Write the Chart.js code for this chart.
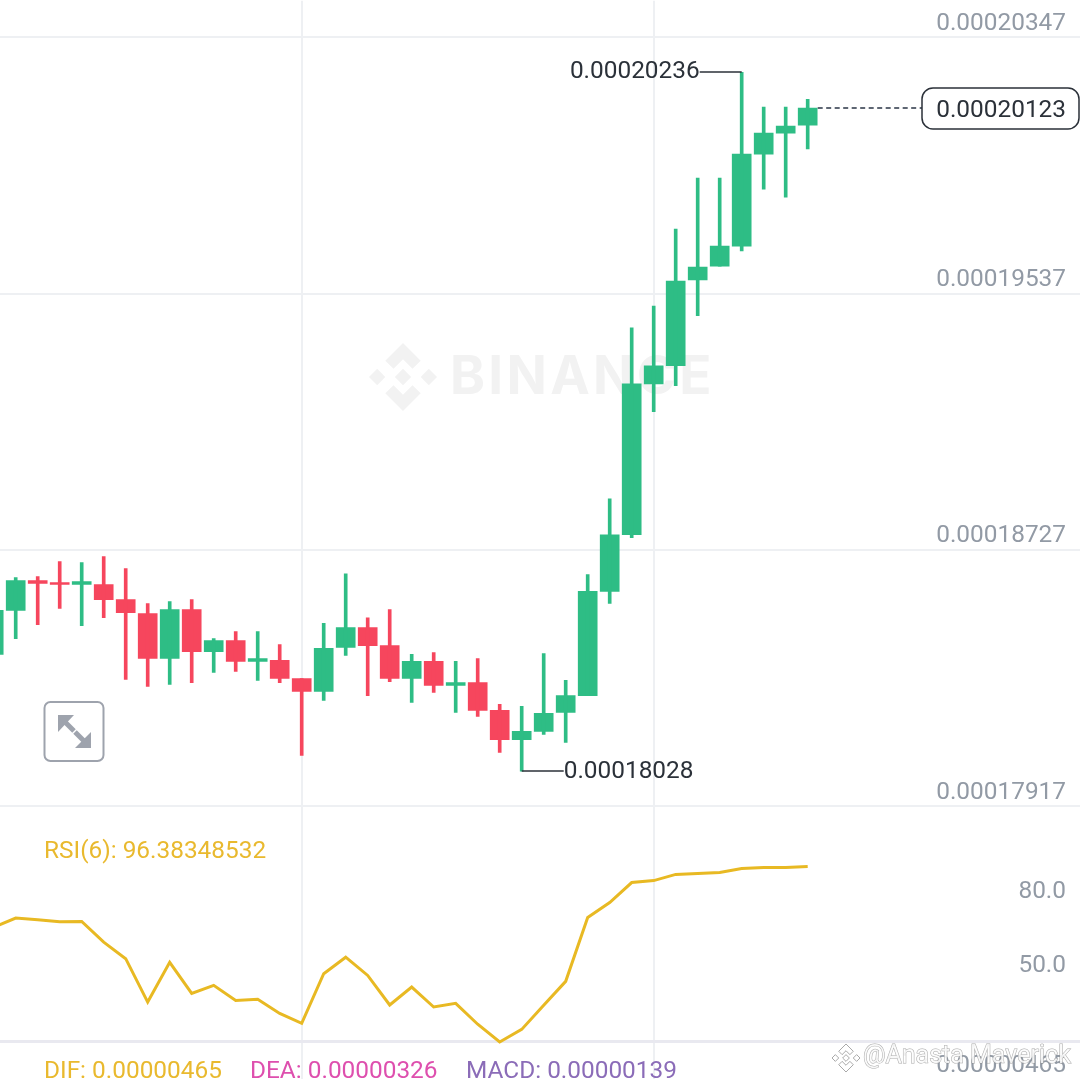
<!DOCTYPE html>
<html>
<head>
<meta charset="utf-8">
<title>Binance candles</title>
<script src="https://cdn.jsdelivr.net/npm/chart.js@4"></script>
<style>
  html, body { margin: 0; padding: 0; background: #ffffff; }
  canvas { display: block; }
</style>
</head>
<body>
<canvas id="klineChart" width="1080" height="1080"></canvas>
<script>
// ── DATA ─────────────────────────────────────────────────
const candleOpen = [
  0.00018397, 0.00018536, 0.00018630, 0.00018624, 0.00018618, 0.00018618, 0.00018570, 0.00018526,
  0.00018384, 0.00018539, 0.00018406, 0.00018441, 0.00018375, 0.00018378, 0.00018321, 0.00018280,
  0.00018419, 0.00018482, 0.00018425, 0.00018321, 0.00018375, 0.00018299, 0.00018308, 0.00018220,
  0.00018128, 0.00018154, 0.00018214, 0.00018267, 0.00018596, 0.00018775, 0.00019252, 0.00019309,
  0.00019580, 0.00019624, 0.00019687, 0.00019978, 0.00020044, 0.00020069,
];
const candleHigh = [
  0.00018554, 0.00018640, 0.00018643, 0.00018690, 0.00018687, 0.00018706, 0.00018668, 0.00018558,
  0.00018564, 0.00018570, 0.00018447, 0.00018469, 0.00018469, 0.00018428, 0.00018321, 0.00018495,
  0.00018652, 0.00018513, 0.00018539, 0.00018397, 0.00018403, 0.00018375, 0.00018384, 0.00018239,
  0.00018233, 0.00018400, 0.00018315, 0.00018649, 0.00018889, 0.00019429, 0.00019498, 0.00019741,
  0.00019902, 0.00019902, 0.00020236, 0.00020126, 0.00020126, 0.00020151,
];
const candleLow = [
  0.00018397, 0.00018447, 0.00018491, 0.00018542, 0.00018488, 0.00018513, 0.00018318, 0.00018296,
  0.00018302, 0.00018308, 0.00018340, 0.00018343, 0.00018315, 0.00018308, 0.00018078, 0.00018252,
  0.00018394, 0.00018267, 0.00018311, 0.00018245, 0.00018277, 0.00018214, 0.00018201, 0.00018087,
  0.00018028, 0.00018144, 0.00018119, 0.00018267, 0.00018558, 0.00018766, 0.00019164, 0.00019246,
  0.00019467, 0.00019624, 0.00019672, 0.00019867, 0.00019842, 0.00019994,
];
const candleClose = [
  0.00018536, 0.00018630, 0.00018621, 0.00018618, 0.00018627, 0.00018570, 0.00018529, 0.00018384,
  0.00018539, 0.00018406, 0.00018441, 0.00018375, 0.00018384, 0.00018321, 0.00018280, 0.00018416,
  0.00018482, 0.00018425, 0.00018321, 0.00018375, 0.00018299, 0.00018308, 0.00018220, 0.00018128,
  0.00018154, 0.00018211, 0.00018267, 0.00018596, 0.00018775, 0.00019252, 0.00019309, 0.00019577,
  0.00019621, 0.00019687, 0.00019978, 0.00020044, 0.00020066, 0.00020123,
];
const rsiValues = [
  71.7, 75.5, 74.8, 74.0, 74.1, 65.7, 59.0, 41.4, 57.5, 44.9, 48.2, 42.0, 42.5,
  36.8, 32.8, 52.9, 59.6, 52.2, 40.2, 47.5, 39.4, 40.9, 32.4, 25.2, 30.3, 40.1,
  49.8, 75.7, 81.8, 89.9, 90.7, 93.2, 93.6, 94.0, 95.6, 96.0, 96.0, 96.38,
];
const priceTicks = [0.00020347, 0.00019537, 0.00018727, 0.00017917];
const rsiTicks   = [80, 50];
const macdTicks  = [0.00000465];
const timeGrid   = [14, 30];

const highIndex = 34, lowIndex = 24, lastIndex = 37;
const highPrice = 0.00020236, lowPrice = 0.00018028, lastPrice = 0.00020123;

const UP = "#2EBD85", DOWN = "#F6465D", INK = "#2B3139", MUTED = "#929AA5", GRID = "#EEF0F3";
const FONT = '24.4px Roboto, sans-serif';

// ── CANVAS DRAWING HELPERS ───────────────────────────────
function poly(ctx, pts) {
  ctx.beginPath();
  pts.forEach(([x, y], i) => i ? ctx.lineTo(x, y) : ctx.moveTo(x, y));
  ctx.closePath();
}

function binanceLogo(ctx, cx, cy, r) {
  const shapes = [
    [[0, -.24], [.24, 0], [0, .24], [-.24, 0]],
    [[-1, 0], [-.76, -.24], [-.52, 0], [-.76, .24]],
    [[1, 0], [.76, -.24], [.52, 0], [.76, .24]],
    [[0, -1], [.52, -.48], [.28, -.24], [0, -.52], [-.28, -.24], [-.52, -.48]],
    [[0, 1], [.52, .48], [.28, .24], [0, .52], [-.28, .24], [-.52, .48]],
  ];
  return shapes.map(s => s.map(([x, y]) => [cx + x * r, cy + y * r]));
}

const watermarkPlugin = {
  id: "watermark",
  beforeDatasetsDraw(chart) {
    const ctx = chart.ctx;
    ctx.save();
    ctx.fillStyle = "#F2F2F2";
    binanceLogo(ctx, 403, 377, 34).forEach(s => { poly(ctx, s); ctx.fill(); });
    ctx.font = '700 53px Inter, Roboto, sans-serif';
    ctx.textAlign = "left";
    ctx.textBaseline = "middle";
    ctx.letterSpacing = "3.3px";
    ctx.fillText("BINANCE", 450, 378);
    ctx.restore();
  },
};

const overlayPlugin = {
  id: "overlay",
  afterDatasetsDraw(chart) {
    const { ctx, scales } = chart;
    const x = scales.x, y = scales.y;
    ctx.save();
    ctx.font = FONT;
    ctx.textBaseline = "middle";

    // high / low leaders
    ctx.strokeStyle = INK;
    ctx.fillStyle = INK;
    ctx.lineWidth = 1.5;
    const hx = x.getPixelForValue(highIndex), hy = Math.round(y.getPixelForValue(highPrice));
    ctx.beginPath(); ctx.moveTo(hx, hy); ctx.lineTo(hx - 42, hy); ctx.stroke();
    ctx.textAlign = "right";
    ctx.fillText(highPrice.toFixed(8), hx - 42, hy);

    const lx = x.getPixelForValue(lowIndex), ly = Math.round(y.getPixelForValue(lowPrice));
    ctx.beginPath(); ctx.moveTo(lx, ly); ctx.lineTo(lx + 42, ly); ctx.stroke();
    ctx.textAlign = "left";
    ctx.fillText(lowPrice.toFixed(8), lx + 42, ly + 1);

    // last price line and tag
    const px = x.getPixelForValue(lastIndex) + 10, py = Math.round(y.getPixelForValue(lastPrice));
    ctx.save();
    ctx.setLineDash([5, 3.5]);
    ctx.strokeStyle = "#5E6673";
    ctx.lineWidth = 2;
    ctx.beginPath(); ctx.moveTo(px, py); ctx.lineTo(922, py); ctx.stroke();
    ctx.restore();
    ctx.beginPath();
    ctx.roundRect(922, py - 20, 157, 41, 11);
    ctx.fillStyle = "#ffffff";
    ctx.fill();
    ctx.stroke();
    ctx.fillStyle = INK;
    ctx.textAlign = "right";
    ctx.fillText(lastPrice.toFixed(8), 1066, py + 3);

    // expand button
    ctx.beginPath();
    ctx.roundRect(44.5, 702, 59, 59, 6);
    ctx.strokeStyle = "#9EA3AD";
    ctx.lineWidth = 2;
    ctx.stroke();
    ctx.fillStyle = "#9EA3AD";
    poly(ctx, [[58, 715], [74, 715], [58, 732]]); ctx.fill();
    poly(ctx, [[91, 748], [75, 748], [91, 732]]); ctx.fill();
    ctx.strokeStyle = "#9EA3AD";
    ctx.lineWidth = 5;
    ctx.beginPath(); ctx.moveTo(64, 721); ctx.lineTo(74, 731); ctx.stroke();
    ctx.beginPath(); ctx.moveTo(75, 732); ctx.lineTo(85, 742); ctx.stroke();

    // indicator legends
    ctx.textAlign = "left";
    ctx.fillStyle = "#E9B92E";
    ctx.fillText("RSI(6): 96.38348532", 44, 852);
    ctx.fillText("DIF: 0.00000465", 44, 1072);
    ctx.fillStyle = "#DE4FAE";
    ctx.fillText("DEA: 0.00000326", 250, 1072);
    ctx.fillStyle = "#8B6CB8";
    ctx.fillText("MACD: 0.00000139", 466, 1072);
    ctx.restore();
  },
  afterDraw(chart) {
    // poster's handle sits on top of everything
    const ctx = chart.ctx;
    ctx.save();
    ctx.strokeStyle = "rgba(140,140,140,0.75)";
    ctx.fillStyle = "rgba(255,255,255,0.85)";
    ctx.lineWidth = 1;
    binanceLogo(ctx, 846, 1058, 14).forEach(s => { poly(ctx, s); ctx.fill(); ctx.stroke(); });
    ctx.font = '25px Roboto, sans-serif';
    ctx.textAlign = "left";
    ctx.textBaseline = "middle";
    ctx.strokeText("@Anasta Maverick", 863, 1057);
    ctx.fillText("@Anasta Maverick", 863, 1057);
    ctx.restore();
  },
};

// ── CHART ────────────────────────────────────────────────
function overlaidAxis(ticks, fmt, labelOffset, grid, min, max) {
  return {
    type: "linear",
    position: "right",
    min, max,
    border: { display: false },
    grid,
    afterFit: axis => { axis.width = 0; },
    afterBuildTicks: axis => { axis.ticks = ticks.map(value => ({ value })); },
    ticks: {
      mirror: true,
      padding: -14,
      labelOffset,
      autoSkip: false,
      color: MUTED,
      font: { size: 24.4, family: "Roboto" },
      callback: v => v.toFixed(fmt),
    },
  };
}

const candleColors = candleOpen.map((o, i) => candleClose[i] >= o ? UP : DOWN);

new Chart(document.getElementById("klineChart"), {
  type: "bar",
  data: {
    datasets: [
      {
        label: "wick",
        data: candleHigh.map((h, i) => ({ x: i, y: [candleLow[i], h] })),
        backgroundColor: candleColors,
        barThickness: 3,
        grouped: false,
        yAxisID: "y",
      },
      {
        label: "body",
        data: candleOpen.map((o, i) => ({ x: i, y: [o, candleClose[i]] })),
        backgroundColor: candleColors,
        barThickness: 19,
        grouped: false,
        yAxisID: "y",
      },
      {
        type: "line",
        label: "RSI(6)",
        data: rsiValues.map((v, i) => ({ x: i, y: v })),
        borderColor: "#E8B923",
        borderWidth: 3,
        pointRadius: 0,
        tension: 0,
        yAxisID: "rsi",
      },
    ],
  },
  options: {
    responsive: false,
    animation: false,
    layout: { padding: 0, autoPadding: false },
    plugins: { legend: { display: false }, tooltip: { enabled: false } },
    scales: {
      x: {
        type: "linear",
        min: 0.286,
        max: 49.378,
        offset: false,
        border: { display: false },
        grid: { color: GRID, lineWidth: 2, drawTicks: false, offset: false },
        afterFit: axis => { axis.height = 0; },
        afterBuildTicks: axis => { axis.ticks = timeGrid.map(value => ({ value })); },
        ticks: { display: false },
      },
      y: overlaidAxis(priceTicks, 8, -13.6, { color: GRID, lineWidth: 2, drawTicks: false },
        0.000170544, 0.000204627),
      rsi: overlaidAxis(rsiTicks, 1, -15, { display: false, drawTicks: false }, 10.03, 447.8),
      macd: overlaidAxis(macdTicks, 8, 25, { color: "#E9E9F0", lineWidth: 3, drawTicks: false },
        0.00000427, 0.00001507),
    },
  },
  plugins: [watermarkPlugin, overlayPlugin],
});
</script>
</body>
</html>
